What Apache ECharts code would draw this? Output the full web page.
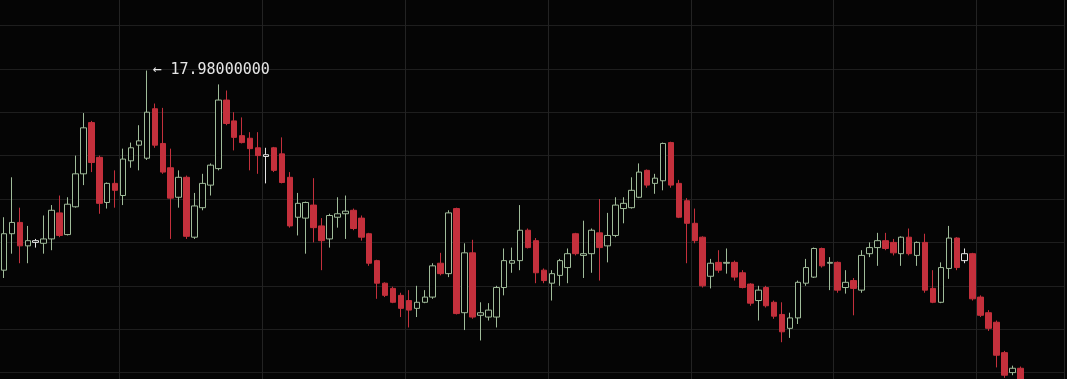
<!DOCTYPE html>
<html>
<head>
<meta charset="utf-8">
<script src="https://cdn.jsdelivr.net/npm/echarts@6/dist/echarts.min.js"></script>
<style>
html,body{margin:0;padding:0;background:#050505;overflow:hidden;width:1067px;height:379px;}
#chart{position:absolute;left:0;top:-18px;width:1067px;height:434px;}
</style>
</head>
<body>
<div id="chart"></div>
<script>
// Candle values (price), left to right
const openPrices = [
15.68,16.10,16.23,15.96,16.00,15.99,16.04,16.34,16.09,16.41,
16.79,17.38,16.98,16.46,16.68,16.54,16.94,17.12,16.97,17.54,
17.14,16.86,16.52,16.75,16.06,16.40,16.66,16.85,17.64,17.40,
17.23,17.20,17.09,17.01,17.09,17.02,16.75,16.29,16.28,16.43,
16.19,16.04,16.29,16.33,16.37,16.28,16.10,15.79,15.53,15.47,
15.39,15.33,15.24,15.31,15.37,15.76,15.64,16.39,15.19,15.88,
15.16,15.14,15.14,15.48,15.76,15.79,16.14,16.02,15.68,15.53,
15.62,15.71,16.10,15.85,15.87,16.11,15.96,16.08,16.39,16.40,
16.52,16.83,16.68,16.71,17.15,16.68,16.48,16.22,16.06,15.61,
15.77,15.76,15.77,15.65,15.52,15.33,15.48,15.31,15.17,15.01,
15.13,15.53,15.60,15.93,15.76,15.77,15.48,15.56,15.45,15.87,
15.94,16.02,16.00,15.87,16.06,15.85,16.00,15.47,15.31,15.70,
16.05,15.79,15.87,15.37,15.19,15.08,14.73,14.50,14.55
];
const closePrices = [
16.10,16.23,15.96,16.02,16.02,16.04,16.37,16.08,16.44,16.79,
17.32,16.92,16.45,16.68,16.60,16.96,17.09,17.17,17.50,17.12,
16.81,16.51,16.75,16.07,16.42,16.68,16.89,17.64,17.37,17.21,
17.15,17.08,17.00,16.99,16.83,16.69,16.19,16.45,16.46,16.17,
16.02,16.31,16.33,16.36,16.16,16.06,15.76,15.53,15.39,15.31,
15.24,15.22,15.31,15.37,15.73,15.64,16.34,15.18,15.88,15.14,
15.19,15.22,15.48,15.79,15.79,16.14,15.94,15.65,15.56,15.64,
15.79,15.87,15.87,15.87,16.14,15.94,16.08,16.43,16.45,16.60,
16.81,16.66,16.74,17.14,16.66,16.29,16.22,16.02,15.50,15.76,
15.68,15.77,15.60,15.48,15.30,15.45,15.27,15.15,14.97,15.13,
15.54,15.71,15.93,15.73,15.77,15.45,15.54,15.47,15.85,15.94,
16.02,15.93,15.88,16.06,15.87,16.00,15.45,15.31,15.71,16.05,
15.71,15.87,15.35,15.16,15.01,14.70,14.47,14.55,14.35
];
const lowPrices = [
15.59,15.87,15.76,15.76,15.94,15.87,15.91,16.06,16.08,16.40,
16.66,16.81,16.33,16.39,16.40,16.43,16.86,16.83,16.95,17.09,
16.79,16.04,16.40,16.04,16.04,16.37,16.54,16.83,17.35,17.06,
17.14,16.83,16.79,16.68,16.81,16.68,16.17,16.08,15.87,16.00,
15.68,15.94,16.17,16.04,16.14,16.02,15.73,15.35,15.37,15.30,
15.14,15.02,15.14,15.30,15.35,15.62,15.60,15.17,14.99,15.12,
14.87,15.10,15.02,15.39,15.65,15.68,15.93,15.53,15.53,15.33,
15.50,15.53,15.85,15.59,15.65,15.56,15.77,16.06,16.22,16.39,
16.51,16.63,16.56,16.60,16.63,16.28,15.76,15.99,15.48,15.47,
15.65,15.64,15.56,15.47,15.27,15.10,15.25,15.12,14.85,14.90,
15.06,15.50,15.59,15.71,15.45,15.42,15.41,15.16,15.42,15.83,
15.73,15.91,15.85,15.73,15.85,15.73,15.42,15.30,15.30,15.58,
15.68,15.76,15.33,15.14,14.98,14.56,14.44,14.47,14.30
];
const highPrices = [
16.29,16.75,16.40,16.19,16.04,16.31,16.43,16.54,16.52,17.00,
17.49,17.40,17.00,16.69,16.83,17.08,17.15,17.35,17.98,17.60,
17.55,17.08,16.83,16.77,16.57,16.79,16.91,17.82,17.75,17.50,
17.44,17.27,17.27,17.09,17.10,17.21,16.81,16.57,16.47,16.74,
16.28,16.33,16.52,16.54,16.39,16.31,16.11,15.80,15.54,15.49,
15.42,15.45,15.50,15.45,15.76,15.88,16.37,16.40,15.99,16.03,
15.31,15.30,15.50,15.93,15.94,16.43,16.16,16.05,15.70,15.68,
15.81,15.93,16.11,16.25,16.16,16.50,16.34,16.52,16.52,16.75,
16.91,16.84,16.79,17.15,17.16,16.72,16.51,16.39,16.07,15.81,
15.91,15.93,15.79,15.68,15.53,15.50,15.50,15.33,15.31,15.19,
15.56,15.81,15.94,15.94,15.83,15.78,15.68,15.59,15.91,16.00,
16.11,16.11,16.04,16.07,16.16,16.01,16.10,15.68,15.77,16.19,
16.06,15.93,15.88,15.39,15.22,15.10,14.75,14.58,14.57
];
// Doji candles drawn in white (0-based positions)
const whiteDoji = [4, 33, 121];
// Category slots (the chart continues a few empty slots to the right)
const categories = Array.from({length: 134}, (_, i) => 'D' + (i + 1));

const candleData = openPrices.map((o, i) => {
  const v = [o, closePrices[i], lowPrices[i], highPrices[i]];
  if (whiteDoji.includes(i)) {
    return {value: v, itemStyle: {color: '#050505', color0: '#050505', borderColor: '#e4e4e4', borderColor0: '#e4e4e4'}};
  }
  return v;
});

const chart = echarts.init(document.getElementById('chart'), null, {renderer: 'canvas'});
chart.setOption({
  backgroundColor: '#050505',
  animation: false,
  grid: {left: 0, right: 3, top: 0, bottom: 0, containLabel: false},
  xAxis: {
    type: 'category',
    data: categories,
    boundaryGap: true,
    axisLine: {show: false},
    axisTick: {show: false},
    axisLabel: {show: false},
    splitLine: {show: true, interval: (i) => i % 18 === 15, lineStyle: {color: '#232323', width: 1}}
  },
  yAxis: {
    type: 'value',
    min: 14,
    max: 19,
    interval: 0.5,
    axisLine: {show: false},
    axisTick: {show: false},
    axisLabel: {show: false},
    splitLine: {show: true, lineStyle: {color: '#1e1e1e', width: 1}}
  },
  series: [{
    type: 'candlestick',
    data: candleData,
    barWidth: 6,
    itemStyle: {
      color: '#050505',
      color0: '#c4303c',
      borderColor: '#a0bc9a',
      borderColor0: '#c4303c',
      borderWidth: 1
    },
    markPoint: {
      symbol: 'rect',
      symbolSize: 1,
      itemStyle: {color: 'rgba(0,0,0,0)'},
      label: {
        show: true,
        position: 'right',
        distance: 5,
        color: '#e6e6e6',
        fontFamily: 'DejaVu Sans Mono',
        fontSize: 15,
        formatter: (p) => '\u2190 ' + Number(p.value).toFixed(8)
      },
      data: [{type: 'max', valueDim: 'highest'}]
    }
  }]
});
</script>
</body>
</html>
